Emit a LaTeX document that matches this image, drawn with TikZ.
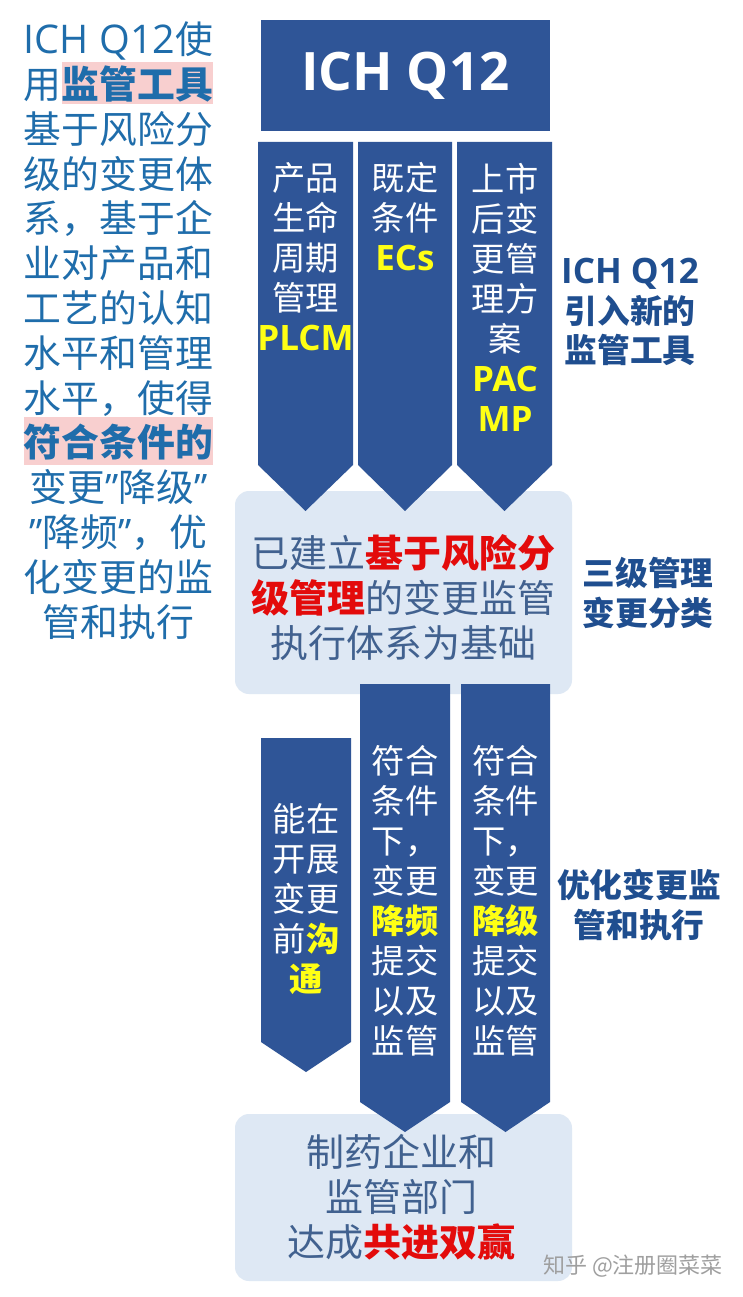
\documentclass[tikz,border=0pt]{standalone}
\usepackage{fontspec}
\setmainfont{Noto Sans CJK SC}
\newfontfamily\lat{Open Sans}
\definecolor{navy}{HTML}{2F5597}
\definecolor{pale}{HTML}{DEE8F4}
\definecolor{leftblue}{HTML}{1F6DAB}
\definecolor{pinkhl}{HTML}{F8CFCF}
\definecolor{sidehead}{HTML}{1F4E8F}
\definecolor{boxtext}{HTML}{41618F}
\definecolor{hot}{HTML}{E30B0B}
\definecolor{sun}{HTML}{FFFF14}
\newcommand{\hy}[1]{{\bfseries\textcolor{sun}{#1}}}
\newcommand{\hr}[1]{{\bfseries\textcolor{hot}{#1}}}
\newcommand{\qt}{{\lat ”}}
\newcommand{\latbig}[1]{{\lat\fontsize{35}{40}\selectfont #1}}
\tikzset{
  txt/.style={inner sep=0pt,align=center},
  lefttxt/.style={txt,text=leftblue,font=\fontsize{37.8}{44.8}\selectfont},
  arrowtxt/.style={txt,text=white,font=\fontsize{33.3}{40}\selectfont},
  sidetxt/.style={txt,text=sidehead,font=\fontsize{32.7}{39.5}\selectfont\bfseries},
  boxtxt/.style={txt,text=boxtext,font=\fontsize{38}{45}\selectfont},
  arrowfill/.style={fill=navy},
  palebox/.style={fill=pale,rounded corners=14pt}
}
\begin{document}
\begin{tikzpicture}[x=1pt,y=-1pt]
\useasboundingbox (0,0) rectangle (742,1297);
\fill[white] (0,0) rectangle (742,1297);
% left highlights
\fill[pinkhl] (62,62) rectangle (213,104);
\fill[pinkhl] (24,417) rectangle (213,465);
\node[lefttxt] (leftnote) at (118.5,330.5) {{\lat\fontsize{39.5}{44.8}\selectfont ICH Q12}使\\用{\bfseries 监管工具}\\基于风险分\\级的变更体\\系，基于企\\业对产品和\\工艺的认知\\水平和管理\\水平，使得\\{\bfseries 符合条件的}\\变更\qt 降级\qt\\\qt 降频\qt ，优\\化变更的监\\管和执行};
% pale boxes
\fill[palebox] (235,491) rectangle (572,694);
\fill[palebox] (235,1114) rectangle (572,1281);
% title
\node[fill=navy,minimum width=289pt,minimum height=111pt,inner sep=0pt,text=white,font=\lat\fontsize{53}{60}\selectfont\bfseries] (title) at (405.5,75.5) {\raisebox{-3pt}{ICH Q12}};
% upper arrows
\fill[arrowfill] (258,142) -- (353,142) -- (353,465) -- (305.5,511) -- (258,465) -- cycle;
\fill[arrowfill] (358,142) -- (452,142) -- (452,465) -- (405,511) -- (358,465) -- cycle;
\fill[arrowfill] (457,142) -- (552,142) -- (552,465) -- (504.5,511) -- (457,465) -- cycle;
% lower arrows
\fill[arrowfill] (261,738) -- (351,738) -- (351,1042) -- (306,1072) -- (261,1042) -- cycle;
\fill[arrowfill] (360,684) -- (450,684) -- (450,1102) -- (405,1132) -- (360,1102) -- cycle;
\fill[arrowfill] (461,684) -- (550,684) -- (550,1102) -- (505.5,1132) -- (461,1102) -- cycle;
% arrow text
\node[arrowtxt] (a1) at (305.5,257) {产品\\生命\\周期\\管理\\\hy{\latbig{PLCM}}};
\node[arrowtxt] (a2) at (405,217) {既定\\条件\\\hy{\latbig{ECs}}};
\node[arrowtxt] (a3) at (505,297) {上市\\后变\\更管\\理方\\案\\\hy{\latbig{PAC}}\\\hy{\latbig{MP}}};
\node[arrowtxt] (b1) at (306,899) {能在\\开展\\变更\\前\hy{沟}\\\hy{通}};
\node[arrowtxt] (b2) at (405,901) {符合\\条件\\下，\\变更\\\hy{降频}\\提交\\以及\\监管};
\node[arrowtxt] (b3) at (505.5,901) {符合\\条件\\下，\\变更\\\hy{降级}\\提交\\以及\\监管};
% side labels
\node[sidetxt] (s1) at (630,312) {{\lat\fontsize{35}{39.5}\selectfont ICH Q12}\\引入新的\\监管工具};
\node[sidetxt] (s2) at (648,593) {三级管理\\变更分类};
\node[sidetxt] (s3) at (639,905) {优化变更监\\管和执行};
% box text
\node[boxtxt] (c1) at (403,598) {已建立\hr{基于风险分}\\\hr{级管理}的变更监管\\执行体系为基础};
\node[boxtxt] (c2) at (401,1197) {制药企业和\\监管部门\\达成\hr{共进双赢}};
% watermark
\node[txt,text=gray!75,font=\fontsize{22}{26}\selectfont] (wm) at (633,1266) {知乎 @注册圈菜菜};
\end{tikzpicture}
\end{document}
